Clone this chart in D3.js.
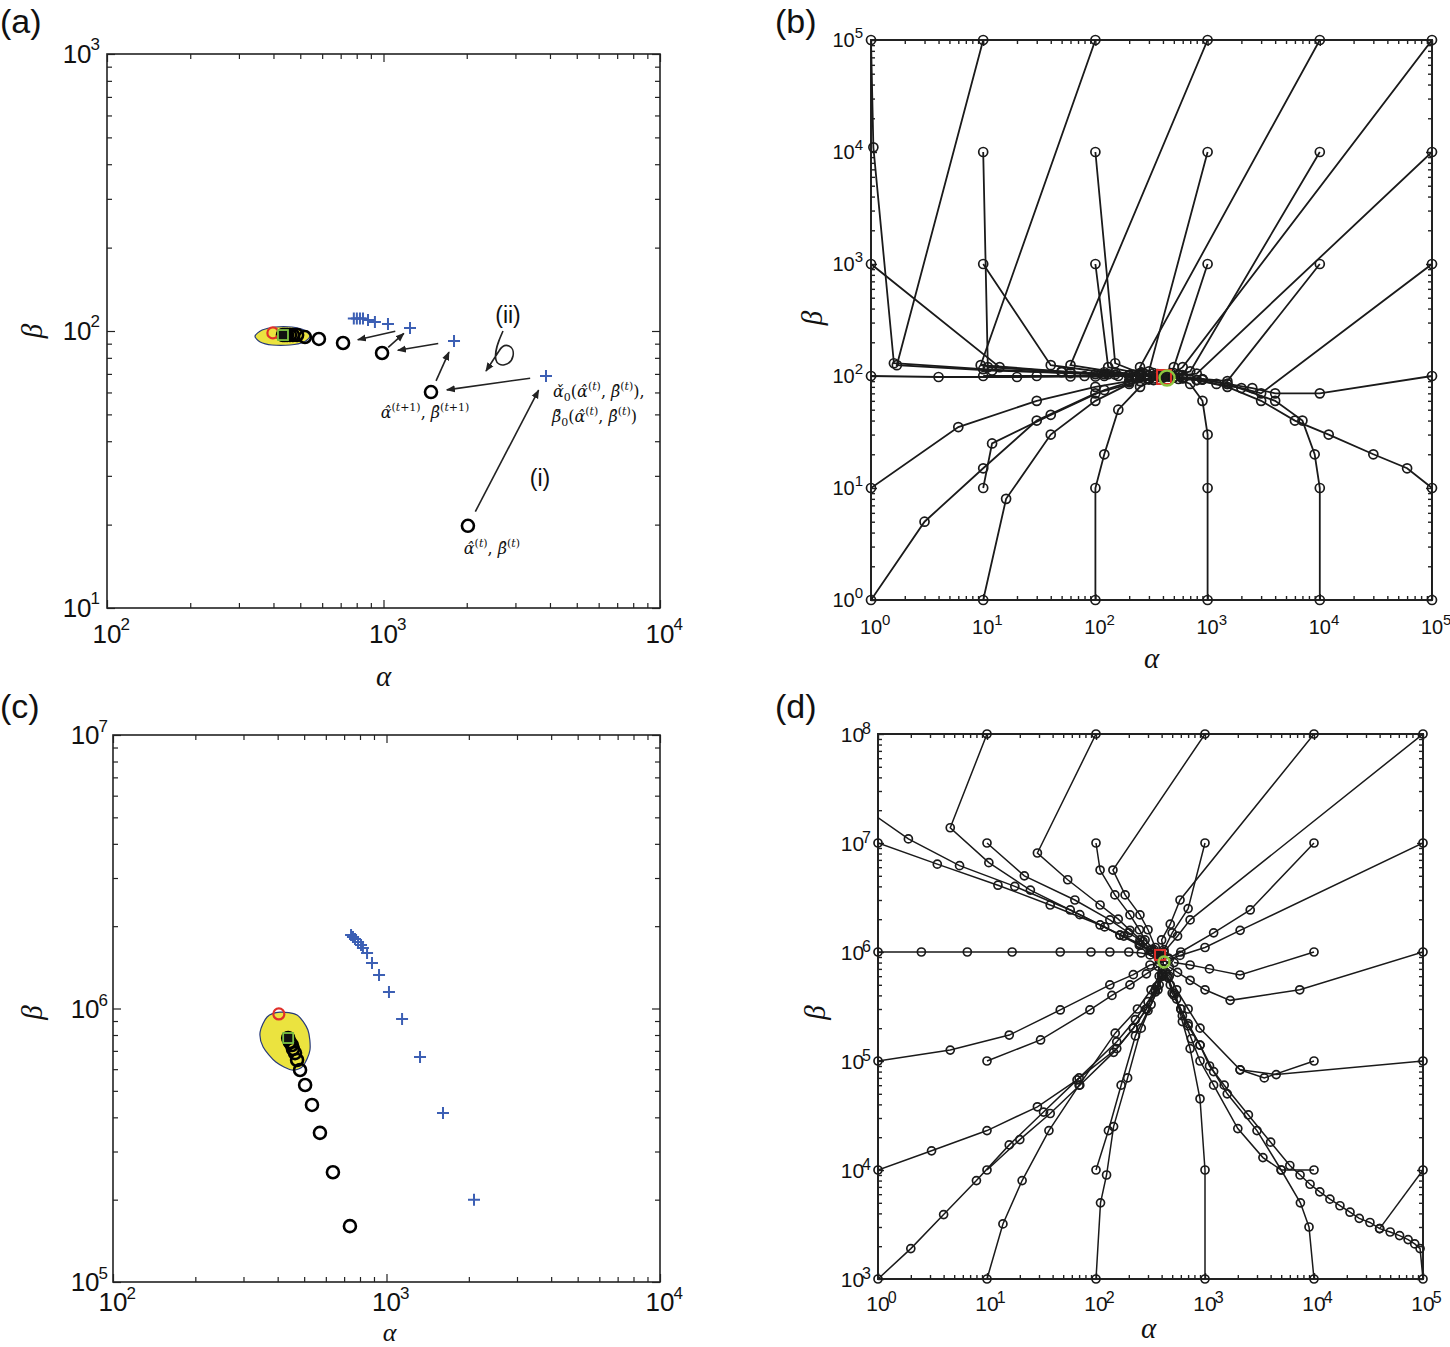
<!DOCTYPE html>
<html>
<head>
<meta charset="utf-8">
<script src="https://cdn.jsdelivr.net/npm/d3@7"></script>
<style>
body { margin: 0; background: #fff; }
text { font-family: "Liberation Sans", Arial, sans-serif; fill: #111; }
.math { font-family: "Liberation Serif", "DejaVu Serif", serif; }
.ann { font-family: "DejaVu Serif", serif; }
</style>
</head>
<body>
<div id="chart-area"></div>
<script>
// ---------- panel (a) ----------
var aCircA = [2020, 1485, 988, 714, 584, 520, 487, 470, 459, 448, 440, 433];
var aCircB = [19.8, 60.2, 83.3, 90.5, 93.6, 95.1, 96.7, 96.7, 96.7, 96.7, 96.7, 96.7];
var aPlusA = [3870, 1799, 1247, 1038, 931, 879, 843, 822, 801, 781];
var aPlusB = [68.8, 92.1, 102.6, 106, 107.8, 109.6, 111, 111, 111, 111];
var aRed = [398, 98.4];
var aGreen = [433, 96.7];
var aBlobA = [343, 364, 405, 467, 516, 542, 516, 459, 395, 358];
var aBlobB = [95.9, 100.8, 103.4, 103.4, 100.8, 95.9, 91.3, 89.0, 89.0, 91.3];

// ---------- panel (c) ----------
var cCircA = [735, 637, 571, 534, 504, 483, 471, 463, 455, 451, 443, 437];
var cCircB = [1.60e5, 2.52e5, 3.51e5, 4.44e5, 5.25e5, 5.96e5, 6.48e5, 6.87e5, 7.11e5, 7.35e5, 7.54e5, 7.80e5];
var cPlusA = [2089, 1609, 1326, 1140, 1021, 939, 885, 849, 820, 807, 787, 767, 754, 742];
var cPlusB = [2.0e5, 4.15e5, 6.65e5, 9.15e5, 1.148e6, 1.327e6, 1.466e6, 1.595e6, 1.664e6, 1.706e6, 1.75e6, 1.795e6, 1.825e6, 1.855e6];
var cRed = [404, 9.55e5];
var cGreen = [437, 7.8e5];
var cBlobA = [408, 471, 516, 525, 495, 451, 394, 354, 345, 366];
var cBlobB = [9.7e5, 9.47e5, 8.34e5, 7.05e5, 6.16e5, 5.96e5, 6.37e5, 7.23e5, 8.2e5, 9.31e5];

// ---------- panel (b) trajectories [alpha, beta] ----------
var bTraj = [
  [[1,1e5],[1.05,1.1e4],[1.6,130],[10,115],[60,106],[200,102],[300,101],[380,100]],
  [[10,1e5],[1.7,125],[12,112],[100,104],[250,101],[400,100]],
  [[100,1e5],[9.5,125],[50,110],[130,104],[200,102],[300,101],[420,100]],
  [[1e3,1e5],[60,125],[150,108],[250,103],[350,101]],
  [[1e4,1e5],[250,120],[330,106],[420,101]],
  [[1e5,1e5],[600,120],[500,106],[440,101]],
  [[1,1e3],[14,120],[50,108],[120,104],[200,102],[280,101],[400,100]],
  [[10,1e4],[11,120],[60,108],[150,103],[300,101]],
  [[10,1e3],[40,125],[120,108],[220,103],[350,101]],
  [[100,1e4],[150,130],[250,106],[350,102]],
  [[100,1e3],[130,120],[250,105],[380,101]],
  [[1e3,1e4],[300,110],[360,104],[420,101]],
  [[1e3,1e3],[500,120],[470,106],[440,101]],
  [[1e4,1e4],[700,110],[550,103],[450,100]],
  [[1e4,1e3],[1500,90],[900,94],[600,97],[500,98],[450,99]],
  [[1e5,1e4],[800,105],[600,102],[460,100]],
  [[1e5,1e3],[3000,70],[2000,78],[1200,85],[800,92],[600,95],[500,98],[450,99]],
  [[1e5,100],[1e4,70],[4000,70],[2500,78],[1500,85],[900,93],[600,97],[500,98]],
  [[1e5,1],[1e5,10],[6e4,15],[3e4,20],[1.2e4,30],[6000,40],[3000,60],[1500,80],[800,92],[600,96],[500,98]],
  [[1e4,1],[1e4,10],[9000,20],[7000,40],[4000,60],[1500,85],[900,93],[600,97]],
  [[1e3,1],[1e3,10],[1e3,30],[900,60],[700,85],[550,94],[500,97]],
  [[100,1],[100,10],[120,20],[160,50],[250,80],[330,92],[400,97]],
  [[10,1],[16,8],[40,30],[100,60],[200,85],[300,93],[400,97]],
  [[1,1],[3,5],[10,15],[30,40],[100,70],[250,90],[330,95],[400,98]],
  [[1,10],[6,35],[30,60],[100,80],[200,90],[300,95],[380,98]],
  [[1,100],[4,98],[20,98],[60,99],[100,99],[160,100],[250,100],[330,100],[400,100]],
  [[10,10],[12,25],[40,45],[120,75],[200,88],[300,95],[380,98]],
  [[10,100],[30,100],[80,100],[120,100],[200,100],[300,100],[400,100]]
];
var bRed = [409, 98];
var bGreen = [435, 96];

// ---------- panel (d) trajectories [alpha, beta] ----------
var dTraj = [
  [[10,1e8],[4.6,1.38e7],[10.4,6.6e6],[25,3.7e6],[71,2.2e6],[166,1.43e6],[250,1.2e6],[313,1.04e6],[370,9.4e5],[400,8.8e5]],
  [[1,1e7],[3.5,6.4e6],[12.6,4.1e6],[38,2.7e6],[109,1.77e6],[180,1.4e6],[253,1.16e6],[330,1e6],[390,9e5]],
  [[0.8,2e7],[1.9,1.09e7],[5.6,6.2e6],[18,4e6],[58,2.43e6],[120,1.7e6],[166,1.43e6],[250,1.15e6],[330,1e6],[400,8.8e5]],
  [[10,1e7],[22,5e6],[64,3e6],[134,1.97e6],[200,1.5e6],[253,1.29e6],[320,1.05e6],[390,9e5]],
  [[100,1e8],[29,8.1e6],[55,4.6e6],[109,2.7e6],[160,2e6],[205,1.58e6],[270,1.25e6],[330,1e6],[390,9e5]],
  [[100,1e7],[109,5.65e6],[149,3.34e6],[205,2.19e6],[250,1.6e6],[282,1.29e6],[340,1.05e6],[400,9e5]],
  [[1e3,1e8],[143,5.65e6],[185,3.34e6],[253,2.19e6],[300,1.6e6],[350,1.1e6],[400,9.2e5]],
  [[1e4,1e8],[590,3e6],[480,1.8e6],[400,1.29e6],[420,1e6]],
  [[1e5,1e8],[730,1.97e6],[560,1.4e6],[420,1e6]],
  [[1e5,1e7],[2100,1.58e6],[1000,1.1e6],[590,9.3e5],[470,8.6e5]],
  [[1e4,1e7],[2600,2.43e6],[1200,1.5e6],[600,1e6],[460,8.8e5]],
  [[1e3,1e7],[700,2.5e6],[500,1.5e6],[420,1.05e6]],
  [[1,1e6],[2.5,1e6],[6.6,1e6],[17,1e6],[47,1e6],[90,1e6],[134,1e6],[200,1e6],[260,9.8e5],[313,9.4e5],[370,9e5]],
  [[1e4,1e6],[2100,6.15e5],[1100,7e5],[730,7.6e5],[520,8e5]],
  [[1e5,1e6],[7400,4.5e5],[1700,3.6e5],[1000,4.5e5],[730,5.5e5],[560,6.5e5],[470,7.3e5]],
  [[1,1e5],[4.6,1.26e5],[16,1.73e5],[47,2.94e5],[134,5e5],[220,6.2e5],[313,7.6e5],[380,7.9e5]],
  [[10,1e5],[31,1.56e5],[88,2.94e5],[140,4e5],[205,5e5],[290,6.3e5],[370,7.4e5]],
  [[1e4,1e5],[3500,7e4],[2100,8.3e4],[900,2e5],[700,3e5],[550,4.5e5],[470,6e5]],
  [[1e5,1e5],[4500,7.5e4],[2100,8.3e4]],
  [[1,1e4],[3.1,1.5e4],[10,2.3e4],[29,3.8e4],[67,6.7e4],[155,1.3e5],[220,2e5],[290,3e5],[350,4.3e5],[400,6e5],[410,7e5]],
  [[10,1e4],[20,1.9e4],[38,3.3e4],[71,6e4],[145,1.2e5],[220,2e5],[290,3e5],[350,4.5e5],[400,6e5]],
  [[1,1e3],[2,1.9e3],[4,3.9e3],[8,8e3],[16,1.7e4],[33,3.4e4],[70,7e4],[155,1.5e5],[230,2.4e5],[300,3.5e5],[360,4.8e5],[400,6.3e5]],
  [[10,1e3],[14,3.2e3],[21,8e3],[37,2.3e4],[70,6e4],[150,1.8e5],[240,3e5],[320,4.5e5],[380,6e5],[410,7e5]],
  [[100,1e3],[110,5e3],[125,9e3],[145,2.5e4],[195,7e4],[260,2e5],[320,3.3e5],[380,5e5],[410,6.3e5]],
  [[100,1e4],[130,2.3e4],[170,6e4],[230,1.7e5],[300,2.9e5],[370,4.5e5],[410,6e5]],
  [[1e3,1e3],[1e3,1e4],[900,4.5e4],[730,1.3e5],[620,2.3e5],[550,3.7e5],[480,5e5],[440,6.5e5]],
  [[1e4,1e3],[9000,3e3],[7500,5e3],[5000,1e4],[3000,2.3e4],[1600,5e4],[1200,8e4],[900,1.4e5],[700,2.2e5],[600,3e5],[520,4.2e5],[460,5.8e5]],
  [[1e4,1e4],[5000,1e4],[3400,1.3e4],[2000,2.4e4],[1200,6e4],[900,1e5],[750,1.6e5],[620,2.6e5],[520,4e5]],
  [[1e5,1e4],[4e4,2.9e3]],
  [[1e5,1e3],[9.4e4,1.9e3],[8.4e4,2.1e3],[7.3e4,2.3e3],[6.1e4,2.5e3],[5e4,2.7e3],[4e4,2.9e3],[3.26e4,3.3e3],
   [2.6e4,3.6e3],[2.14e4,4.1e3],[1.73e4,4.7e3],[1.4e4,5.4e3],[1.13e4,6.3e3],[9200,7.4e3],[7450,9e3],[6000,1.1e4],
   [4000,1.8e4],[2500,3.2e4],[1500,6e4],[1100,9e4],[900,1.4e5],[700,2.1e5],[600,3e5],[500,4.2e5],[450,6e5]]
];
var dRed = [387, 9.4e5];
var dGreen = [421, 8.1e5];

var W = 1450, H = 1347;
var svg = d3.select("#chart-area").append("svg").attr("width", W).attr("height", H);
var defs = svg.append("defs");
defs.append("marker").attr("id", "arrow")
    .attr("viewBox", "0 0 10 10").attr("refX", 9).attr("refY", 5)
    .attr("markerWidth", 9).attr("markerHeight", 9)
    .attr("markerUnits", "userSpaceOnUse").attr("orient", "auto")
  .append("path").attr("d", "M0,1L10,5L0,9Z").attr("fill", "#222");

function logTicks(dom) {
  var lo = Math.round(Math.log10(dom[0])), hi = Math.round(Math.log10(dom[1]));
  var major = [], minor = [];
  for (var e = lo; e <= hi; e++) {
    major.push(Math.pow(10, e));
    if (e < hi) for (var k = 2; k < 10; k++) minor.push(k * Math.pow(10, e));
  }
  return {major: major, minor: minor};
}

function powLabel(g, px, py, e, p, anchor) {
  var w10 = p.fs * 1.112, wE = p.efs * 0.556 * String(e).length;
  var x10 = anchor === "end" ? px - wE - w10 / 2 + p.eGap : px;
  g.append("text").attr("x", x10).attr("y", py).attr("dy", "0.36em")
    .attr("text-anchor", "middle").style("font-size", p.fs + "px").text("10");
  g.append("text").attr("x", x10 + w10 / 2 - p.eGap).attr("y", py - p.eRaise).attr("dy", "0.36em")
    .style("font-size", p.efs + "px").text(e);
}

function makePanel(p) {
  var x = d3.scaleLog().domain(p.xDom).range([p.left, p.right]);
  var y = d3.scaleLog().domain(p.yDom).range([p.bottom, p.top]);
  var g = svg.append("g");
  var xt = logTicks(p.xDom), yt = logTicks(p.yDom);
  var sides = [
    [d3.axisBottom, x, "translate(0," + p.bottom + ")", xt],
    [d3.axisTop, x, "translate(0," + p.top + ")", xt],
    [d3.axisLeft, y, "translate(" + p.left + ",0)", yt],
    [d3.axisRight, y, "translate(" + p.right + ",0)", yt]
  ];
  sides.forEach(function(s) {
    var ax = g.append("g").attr("transform", s[2]);
    ax.append("g").call(s[0](s[1]).tickValues(s[3].minor).tickSize(-p.minLen).tickFormat(""));
    ax.append("g").call(s[0](s[1]).tickValues(s[3].major).tickSize(-p.majLen).tickFormat(""));
    ax.selectAll(".domain").remove();
    ax.selectAll("line").attr("stroke", "#222").attr("stroke-width", p.tickW);
  });
  g.append("rect").attr("x", p.left).attr("y", p.top)
    .attr("width", p.right - p.left).attr("height", p.bottom - p.top)
    .attr("fill", "none").attr("stroke", "#222").attr("stroke-width", p.frameW);

  xt.major.forEach(function(v) {
    powLabel(g, x(v), p.bottom + p.xLabOff, Math.round(Math.log10(v)), p, "middle");
  });
  yt.major.forEach(function(v) {
    powLabel(g, p.left - p.yLabGap, y(v), Math.round(Math.log10(v)), p, "end");
  });
  g.append("text").attr("class", "math").attr("x", (p.left + p.right) / 2 + p.alphaDx).attr("y", p.alphaY)
    .attr("text-anchor", "middle").style("font-size", p.labFs + "px").style("font-style", "italic").text("α");
  var by = (p.top + p.bottom) / 2 + p.betaDy;
  g.append("text").attr("class", "math").attr("x", p.betaX).attr("y", by)
    .attr("text-anchor", "middle").attr("dy", "0.35em")
    .attr("transform", "rotate(-90," + p.betaX + "," + by + ")")
    .style("font-size", "29px").style("font-style", "italic").text("β");
  g.append("text").attr("x", p.tagX).attr("y", p.tagY).style("font-size", "34px").text(p.tag);

  var clipId = "clip" + p.tag.replace(/\W/g, "");
  defs.append("clipPath").attr("id", clipId).append("rect")
    .attr("x", p.left).attr("y", p.top).attr("width", p.right - p.left).attr("height", p.bottom - p.top);
  return {g: g, x: x, y: y, clip: "url(#" + clipId + ")"};
}

function plusPath(s) { return "M" + (-s) + ",0H" + s + "M0," + (-s) + "V" + s; }

// ---------- scatter panels (a) and (c) ----------
function scatterPanel(P, circA, circB, plusA, plusB, red, green, blobA, blobB) {
  var x = P.x, y = P.y, g = P.g;
  var blob = blobA.map(function(a, i) { return [x(a), y(blobB[i])]; });
  g.append("path").attr("d", d3.line().curve(d3.curveCardinalClosed.tension(0.2))(blob))
    .attr("fill", "#ebe33f").attr("stroke", "#283a7a").attr("stroke-width", 1.2);
  g.selectAll(".pl").data(plusA).enter().append("path")
    .attr("transform", function(d, i) { return "translate(" + x(d) + "," + y(plusB[i]) + ")"; })
    .attr("d", plusPath(6)).attr("stroke", "#3c5fb4").attr("stroke-width", 2).attr("fill", "none");
  g.selectAll(".ci").data(circA).enter().append("circle")
    .attr("cx", function(d) { return x(d); }).attr("cy", function(d, i) { return y(circB[i]); })
    .attr("r", 6).attr("fill", "none").attr("stroke", "#000").attr("stroke-width", 2.6);
  g.append("circle").attr("cx", x(red[0])).attr("cy", y(red[1])).attr("r", 5.5)
    .attr("fill", "none").attr("stroke", "#e0302a").attr("stroke-width", 2.2);
  g.append("rect").attr("x", x(green[0]) - 5).attr("y", y(green[1]) - 5).attr("width", 10).attr("height", 10)
    .attr("fill", "#111").attr("stroke", "#7cc242").attr("stroke-width", 1.8);
}

var pA = makePanel({tag: "(a)", tagX: 0, tagY: 33, xDom: [100, 1e4], yDom: [10, 1e3],
  left: 107, right: 660, top: 54, bottom: 608, majLen: 8, minLen: 5, tickW: 1.2, frameW: 1.6,
  fs: 26, efs: 17, eRaise: 10, eGap: 1, xLabOff: 26, yLabGap: 7, alphaDx: 0, alphaY: 686, labFs: 29, betaX: 32, betaDy: 0});
scatterPanel(pA, aCircA, aCircB, aPlusA, aPlusB, aRed, aGreen, aBlobA, aBlobB);

var pC = makePanel({tag: "(c)", tagX: 0, tagY: 718, xDom: [100, 1e4], yDom: [1e5, 1e7],
  left: 113, right: 660, top: 735, bottom: 1282, majLen: 8, minLen: 5, tickW: 1.2, frameW: 1.6,
  fs: 26, efs: 17, eRaise: 9, eGap: 1, xLabOff: 20, yLabGap: 5, alphaDx: 3, alphaY: 1341, labFs: 26, betaX: 32, betaDy: 4});
scatterPanel(pC, cCircA, cCircB, cPlusA, cPlusB, cRed, cGreen, cBlobA, cBlobB);

// arrows and annotations in (a)
(function() {
  var x = pA.x, y = pA.y, g = pA.g;
  var seq = [
    [aCircA[0], aCircB[0]], [aPlusA[0], aPlusB[0]], [aCircA[1], aCircB[1]],
    [aPlusA[1], aPlusB[1]], [aCircA[2], aCircB[2]], [aPlusA[2], aPlusB[2]], [aCircA[3], aCircB[3]]
  ];
  for (var i = 0; i < seq.length - 1; i++) {
    var x0 = x(seq[i][0]), y0 = y(seq[i][1]), x1 = x(seq[i + 1][0]), y1 = y(seq[i + 1][1]);
    var L = Math.hypot(x1 - x0, y1 - y0), s = Math.min(16, 0.22 * L);
    var ux = (x1 - x0) / L, uy = (y1 - y0) / L;
    g.append("line").attr("x1", x0 + ux * s).attr("y1", y0 + uy * s)
      .attr("x2", x1 - ux * s).attr("y2", y1 - uy * s)
      .attr("stroke", "#222").attr("stroke-width", 1.6).attr("marker-end", "url(#arrow)");
  }
  function mathText(px, py, parts, anchor) {
    var t = g.append("text").attr("class", "ann").attr("x", px).attr("y", py)
      .attr("text-anchor", anchor).style("font-size", "16px");
    var cur = 0;
    parts.forEach(function(pt) {
      var target = pt[1].indexOf("sup") === 0 ? -7 : (pt[1] === "sub" ? 4 : 0);
      var ts = t.append("tspan").attr("dy", target - cur).text(pt[0]);
      cur = target;
      if (pt[1] === "i" || pt[1] === "supi") ts.style("font-style", "italic");
      if (pt[1] !== "i" && pt[1] !== "n") ts.style("font-size", "11px");
    });
    return t;
  }
  var sup = function(inner) { return [["(", "sup"], ["t", "supi"], [inner + ")", "sup"]]; };
  var hatPair = function(inner) {
    return [["α\u0302", "i"]].concat(sup(inner), [[", ", "n"], ["β\u0302", "i"]], sup(inner));
  };
  mathText(x(aCircA[0]) + 24, y(aCircB[0]) + 28, hatPair(""), "middle");
  mathText(x(aCircA[1]) - 6, y(aCircB[1]) + 26, hatPair("+1"), "middle");
  mathText(x(aPlusA[0]) + 7, y(aPlusB[0]) + 21,
    [["α\u030C", "i"], ["0", "sub"], ["(", "n"]].concat(hatPair(""), [["),", "n"]]), "start");
  mathText(x(aPlusA[0]) + 6, y(aPlusB[0]) + 46,
    [["β\u030C", "i"], ["0", "sub"], ["(", "n"]].concat(hatPair(""), [[")", "n"]]), "start");
  g.append("text").attr("x", 540).attr("y", 486).attr("text-anchor", "middle").style("font-size", "23px").text("(i)");
  g.append("text").attr("x", 508).attr("y", 323).attr("text-anchor", "middle").style("font-size", "23px").text("(ii)");
  g.append("path").attr("d", "M503,331 C498,342 494,352 496,360 C498,368 511,366 513,356 C515,346 505,341 499,351 L486,371")
    .attr("fill", "none").attr("stroke", "#222").attr("stroke-width", 1.6).attr("marker-end", "url(#arrow)");
})();

// ---------- trajectory panels (b) and (d) ----------
function trajPanel(P, traj, red, green, r, sw, redS, greenR) {
  var x = P.x, y = P.y, g = P.g;
  var line = d3.line().x(function(d) { return x(d[0]); }).y(function(d) { return y(d[1]); });
  var xd = x.domain(), yd = y.domain();
  g.append("g").attr("clip-path", P.clip).selectAll("path").data(traj).enter().append("path")
    .attr("d", line).attr("fill", "none").attr("stroke", "#1a1a1a").attr("stroke-width", sw);
  var pts = [];
  traj.forEach(function(t) {
    t.forEach(function(d) {
      if (d[0] >= xd[0] * 0.99 && d[0] <= xd[1] * 1.01 && d[1] >= yd[0] * 0.99 && d[1] <= yd[1] * 1.01) pts.push(d);
    });
  });
  g.append("g").selectAll("circle").data(pts).enter().append("circle")
    .attr("cx", function(d) { return x(d[0]); }).attr("cy", function(d) { return y(d[1]); })
    .attr("r", r).attr("fill", "none").attr("stroke", "#1a1a1a").attr("stroke-width", 1.7);
  g.append("rect").attr("x", x(red[0]) - redS / 2).attr("y", y(red[1]) - redS / 2)
    .attr("width", redS).attr("height", redS).attr("fill", "none").attr("stroke", "#e0302a").attr("stroke-width", 2);
  g.append("circle").attr("cx", x(green[0])).attr("cy", y(green[1])).attr("r", greenR)
    .attr("fill", "none").attr("stroke", "#8cc63f").attr("stroke-width", 2.4);
}

var pB = makePanel({tag: "(b)", tagX: 775, tagY: 33, xDom: [1, 1e5], yDom: [1, 1e5],
  left: 871, right: 1432, top: 40, bottom: 600, majLen: 6, minLen: 4, tickW: 1.4, frameW: 2,
  fs: 20, efs: 15, eRaise: 7, eGap: 0, xLabOff: 27, yLabGap: 8, alphaDx: 0, alphaY: 668, labFs: 29, betaX: 812, betaDy: -2});
trajPanel(pB, bTraj, bRed, bGreen, 4.5, 1.8, 14, 7.5);

var pD = makePanel({tag: "(d)", tagX: 775, tagY: 718, xDom: [1, 1e5], yDom: [1e3, 1e8],
  left: 878, right: 1423, top: 734, bottom: 1279, majLen: 6, minLen: 4, tickW: 1.4, frameW: 2,
  fs: 21, efs: 16, eRaise: 6, eGap: 2, xLabOff: 24, yLabGap: 7, alphaDx: -2, alphaY: 1338, labFs: 29, betaX: 815, betaDy: 6});
trajPanel(pD, dTraj, dRed, dGreen, 4, 1.5, 10, 5.5);
</script>
</body>
</html>
